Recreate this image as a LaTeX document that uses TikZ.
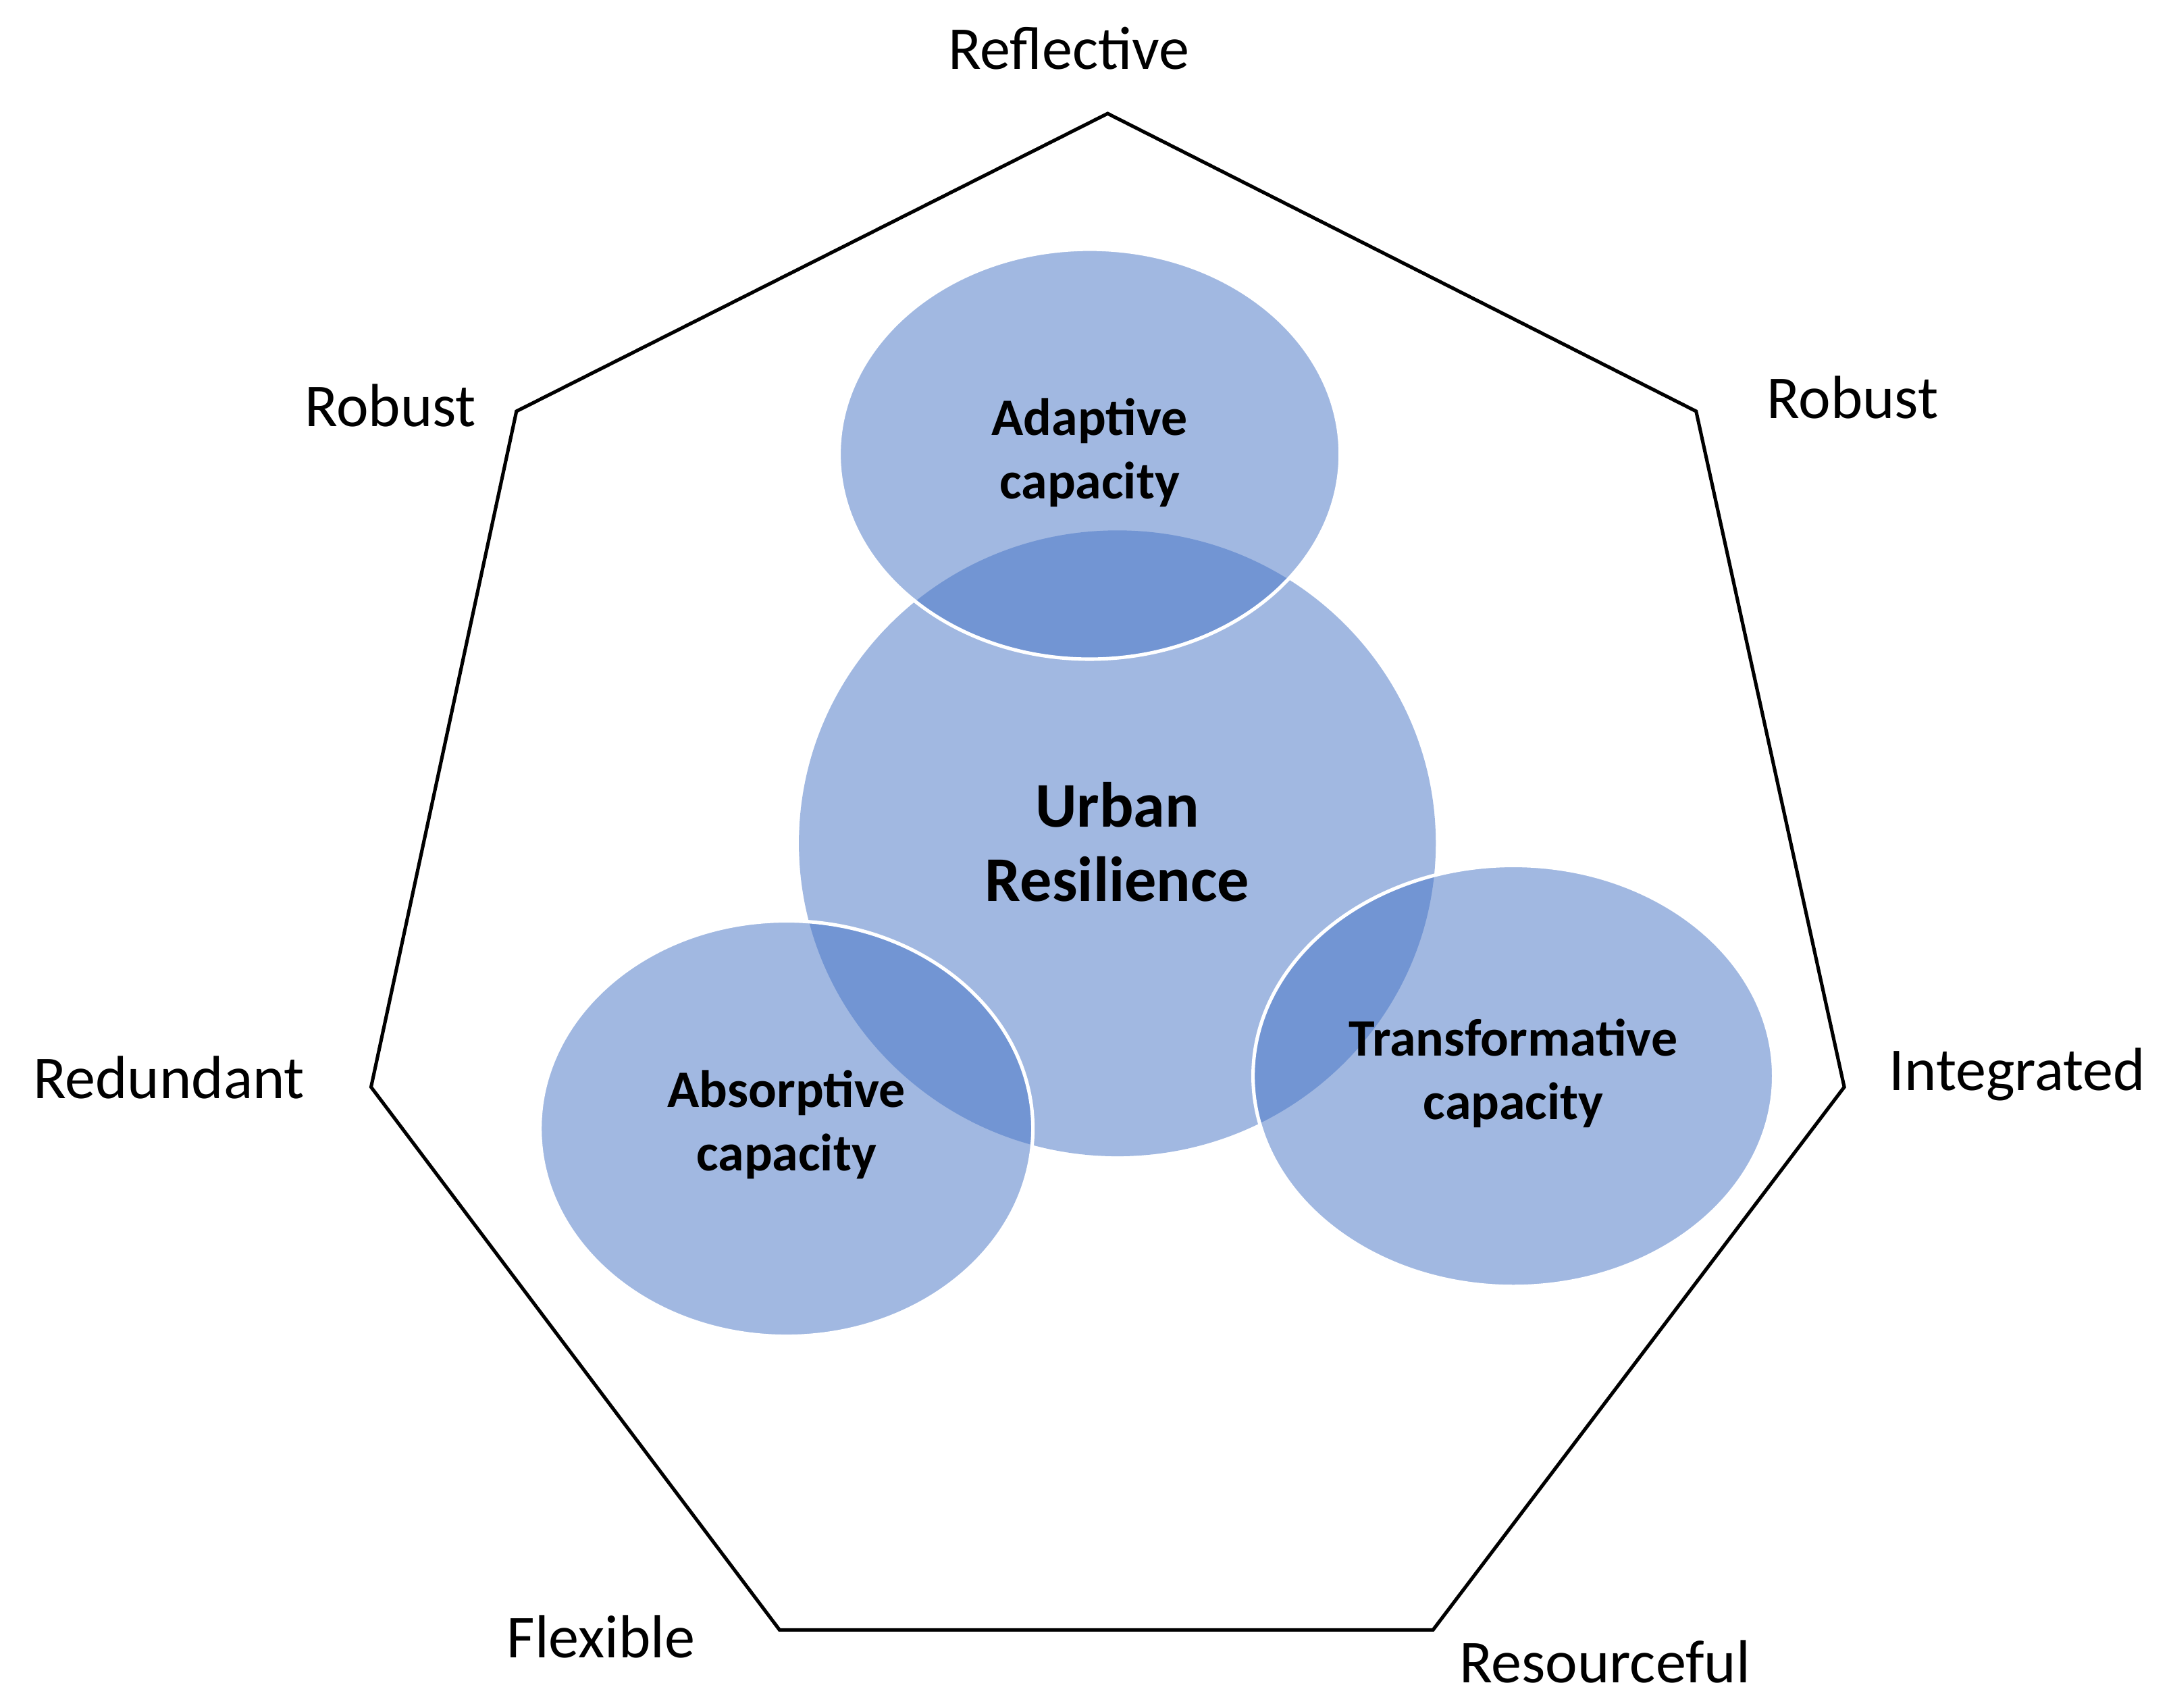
\documentclass[tikz,border=0pt]{standalone}
\usepackage{fontspec}
\setmainfont{Carlito}
\begin{document}
\begin{tikzpicture}[x=1pt,y=-1pt,
  lab/.style={font=\fontsize{44}{48}\selectfont},
  captxt/.style={font=\bfseries\fontsize{38}{46}\selectfont,align=center},
  blob/.style={fill={rgb,255:red,68;green,114;blue,196},fill opacity=0.5},
  edge/.style={draw=white,line width=2.5pt}]
\useasboundingbox (0,0) rectangle (1568,1233);
\coordinate (v1) at (800,82);
\coordinate (v2) at (1225,297);
\coordinate (v3) at (1332,785);
\coordinate (v4) at (1035,1177);
\coordinate (v5) at (563,1177);
\coordinate (v6) at (268,785);
\coordinate (v7) at (373,297);
\draw[line width=2.5pt,line join=miter] (v1)--(v2)--(v3)--(v4)--(v5)--(v6)--(v7)--cycle;
\fill[blob] (807,609) ellipse (230 and 226);
\fill[blob] (787,328) ellipse (181 and 148);
\fill[blob] (568,815) ellipse (178 and 150);
\fill[blob] (1093,777) ellipse (188 and 152);
\draw[edge] (787,328) ellipse (181 and 148);
\draw[edge] (568,815) ellipse (178 and 150);
\draw[edge] (1093,777) ellipse (188 and 152);
\node[captxt] (ad) at (787,327) {Adaptive\\capacity};
\node[captxt] (ab) at (568,812) {Absorptive\\capacity};
\node[captxt] (tr) at (1093,775) {Transformative\\capacity};
\node[font=\bfseries\fontsize{46}{54}\selectfont,align=center] (ur) at (807,608) {Urban\\Resilience};
\node[lab] (l1) at (772,35) {Reflective};
\node[lab] (l2) at (282,293) {Robust};
\node[lab] (l3) at (1338,287) {Robust};
\node[lab] (l4) at (122,778) {Redundant};
\node[lab] (l5) at (1457,776) {Integrated};
\node[lab] (l6) at (434,1182) {Flexible};
\node[lab] (l7) at (1159,1200) {Resourceful};
\end{tikzpicture}
\end{document}
